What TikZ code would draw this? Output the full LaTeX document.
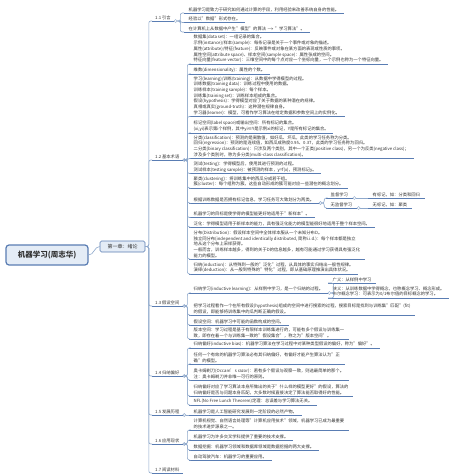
\documentclass[tikz,border=0pt]{standalone}
\usepackage{fontspec}
\setmainfont{Noto Sans CJK SC}
\usetikzlibrary{positioning}
\definecolor{mapline}{HTML}{8FA9CC}
\definecolor{mapblue}{HTML}{5A7DB3}
\definecolor{mapfill}{HTML}{E4ECF6}
\definecolor{maptext}{HTML}{333333}

\begin{document}
\begin{tikzpicture}[x=1pt,y=-1pt]

\tikzset{root-topic/.style={draw=mapblue, line width=1.2pt, fill=mapfill, rounded corners=3pt,
                            minimum width=82pt, minimum height=20pt,
                            font=\fontsize{7.5}{9}\selectfont\bfseries, text=maptext},
         chapter-topic/.style={draw=mapblue, line width=0.6pt, fill=mapfill, rounded corners=1.5pt,
                            minimum width=45pt, minimum height=11pt, inner sep=1pt,
                            font=\fontsize{5}{6}\selectfont, text=maptext},
         section-topic/.style={anchor=south west, inner xsep=3pt, inner ysep=1.2pt,
                            font=\fontsize{4.3}{5.7}\selectfont, text=maptext},
         leaf-topic/.style={anchor=south west, align=left, inner xsep=4.5pt, inner ysep=1.2pt,
                            font=\fontsize{4.3}{5.7}\selectfont, text=maptext},
         topic-line/.style={draw=mapblue, line width=0.7pt},
         branch/.style={draw=mapline, line width=0.6pt, rounded corners=2pt},
         fold/.style={draw=mapline, fill=white, line width=0.4pt, circle, inner sep=0pt, minimum size=3pt}}

\useasboundingbox[fill=white] (0,0) rectangle (474,476);

% root and chapter
\node[root-topic] (root) at (47,255) {机器学习(周志华)};
\node[chapter-topic] (ch1) at (122.5,246.5) {第一章：绪论};
\draw[branch] (root.east) to[out=0,in=180] (ch1.west);

% sections
\node[section-topic] (s1) at (152,21) {1.1 引言};
\node[section-topic] (s2) at (152,160) {1.2 基本术语};
\node[section-topic] (s3) at (152,306) {1.3 假设空间};
\node[section-topic] (s4) at (152,376) {1.4 归纳偏好};
\node[section-topic] (s5) at (152,415) {1.5 发展历程};
\node[section-topic] (s6) at (152,444) {1.6 应用现状};
\node[section-topic] (s7) at (152,473) {1.7 阅读材料};
\foreach \sec in {s1,s2,s3,s4,s5,s6,s7}
  \draw[branch] (ch1.east) -- ++(3.5,0) |- (\sec.south west);
\foreach \sec/\f in {s1/f1,s2/f2,s3/f3,s4/f4,s5/f5,s6/f6}
  \node[fold, right=0pt of \sec.south east] (\f) {};

% 1.1
\node[leaf-topic] (a1) at (184,13) {机器学习是致力于研究如何通过计算的手段，利用经验来改善系统自身的性能。};
\node[leaf-topic] (a2) at (184,22.5) {经验以"数据"形式存在。};
\node[leaf-topic] (a3) at (184,32) {在计算机上从数据中产生"模型"的算法 $\rightarrow$ "学习算法"。};

% 1.2
\node[leaf-topic] (b1) at (189,64) {数据集(data set)：一组记录的集合。\\
  示例(instance)/样本(sample)：每条记录是关于一个事件或对象的描述。\\
  属性(attribute)/特征(feature)：反映事件或对象在某方面的表现或性质的事项。\\
  属性空间(attribute space)、样本空间(sample space)：属性张成的空间。\\
  特征向量(feature vector)：三维空间中的每个点对应一个坐标向量，一个示例也称为一个特征向量。};
\node[leaf-topic] (b2) at (189,74) {维数(dimensionality)：属性的个数。};
\node[leaf-topic] (b3) at (189,116.5) {学习(learning)/训练(training)：从数据中学得模型的过程。\\
  训练数据(training data)：训练过程中使用的数据。\\
  训练样本(training sample)：每个样本。\\
  训练集(training set)：训练样本组成的集合。\\
  假设(hypothesis)：学得模型对应了关于数据的某种潜在的规律。\\
  真相或真实(ground-truth)：这种潜在规律自身。\\
  学习器(learner)：模型，可看作学习算法在给定数据和参数空间上的实例化。};
\node[leaf-topic] (b4) at (189,133) {标记空间(label space)或输出空间：所有标记的集合。\\
  (xi,yi)表示第i个样例，其中yi∈Y是示例xi的标记，Y是所有标记的集合。};
\node[leaf-topic] (b5) at (189,158.5) {分类(classification)：预测的是离散值，如好瓜、坏瓜，此类的学习任务称为分类。\\
  回归(regression)：预测的是连续值，如西瓜成熟度0.95、0.37，此类的学习任务称为回归。\\
  二分类(binary classification)：只涉及两个类别，其中一个正类(positive class)，另一个为反类(negative class)；\\
  涉及多个类别时，称为多分类(multi-class classification)。};
\node[leaf-topic] (b6) at (189,173.5) {测试(testing)：学得模型后，使用其进行预测的过程。\\
  测试样本(testing sample)：被预测的样本，y=f(x)，预测标记y。};
\node[leaf-topic] (b7) at (189,188) {聚类(clustering)：将训练集中的西瓜分成若干组。\\
  簇(cluster)：每个组称为簇，这些自动形成的簇可能对应一些潜在的概念划分。};
\node[leaf-topic] (b8) at (189,203) {根据训练数据是否拥有标记信息，学习任务可大致划分为两类。};
\node[leaf-topic] (b9) at (189,217.5) {机器学习的目标是使学得的模型能更好地适用于"新样本"。};
\node[leaf-topic] (b10) at (189,227) {泛化：学得模型适用于新样本的能力，具有强泛化能力的模型能很好地适用于整个样本空间。};
\node[leaf-topic] (b11) at (189,259) {分布(Distribution)：假设样本空间中全体样本服从一个未知分布D。\\
  独立同分布(independent and identically distributed, 简称i.i.d.)：每个样本都是独立\\
  地从这个分布上采样获得。\\
  一般而言，训练样本越多，得到的关于D的信息越多，越有可能通过学习获得具有强泛化\\
  能力的模型。};
\node[leaf-topic] (b12) at (189,274) {归纳(induction)：从特殊到一般的"泛化"过程，从具体的事实归结出一般性规律。\\
  演绎(deduction)：从一般到特殊的"特化"过程，即从基础原理推演出具体状况。};

% supervised / unsupervised
\node[fold, right=0pt of b8.south east] (f8) {};
\node[leaf-topic] (sup) at (326,198) {监督学习};
\node[leaf-topic] (uns) at (326,208) {无监督学习};
\node[fold, right=0pt of sup.south east] (fsup) {};
\node[fold, right=0pt of uns.south east] (funs) {};
\node[leaf-topic] (sup1) at (368,198) {有标记，如：分类和回归};
\node[leaf-topic] (uns1) at (368,208) {无标记，如：聚类};

% 1.3
\node[leaf-topic] (c1) at (189,293) {归纳学习(inductive learning)：从样例中学习，是一个归纳的过程。};
\node[fold, right=0pt of c1.south east] (fc1) {};
\node[leaf-topic] (g1) at (328,283) {广义：从样例中学习};
\node[leaf-topic] (g2) at (328,298) {狭义：从训练数据中学得概念，也称概念学习、概念形成。\\
  布尔概念学习：可表示为0/1布尔值的目标概念的学习。};
\node[leaf-topic] (c2) at (189,315) {把学习过程看作一个在所有假设(hypothesis)组成的空间中进行搜索的过程，搜索目标是找到与训练集"匹配"(fit)\\
  的假设，即能够将训练集中的瓜判断正确的假设。};
\node[leaf-topic] (c3) at (189,325) {假设空间：机器学习中可能的函数构成的空间。};
\node[leaf-topic] (c4) at (189,339) {版本空间：学习过程是基于有限样本训练集进行的，可能有多个假设与训练集一\\
  致，即存在着一个与训练集一致的"假设集合"，称之为"版本空间"。};

% 1.4
\node[leaf-topic] (d1) at (189,348) {归纳偏好(inductive bias)：机器学习算法在学习过程中对某种类型假设的偏好，称为"偏好"。};
\node[leaf-topic] (d2) at (189,364) {任何一个有效的机器学习算法必有其归纳偏好，有偏好才能产生算法认为"正\\
  确"的模型。};
\node[leaf-topic] (d3) at (189,380) {奥卡姆剃刀(Occam's razor)：若有多个假设与观察一致，则选最简单的那个。\\
  注：奥卡姆剃刀并非唯一可行的原则。};
\node[leaf-topic] (d4) at (189,396) {归纳偏好对应了学习算法本身所做出的关于"什么样的模型更好"的假设，算法的\\
  归纳偏好是否与问题本身匹配，大多数时候直接决定了算法能否取得好的性能。};
\node[leaf-topic] (d5) at (189,405) {NFL(No Free Lunch Theorem)定理：总误差与学习算法无关。};

% 1.5
\node[leaf-topic] (e0) at (189,415) {机器学习是人工智能研究发展到一定阶段的必然产物。};

% 1.6
\node[leaf-topic] (e1) at (189,430) {计算机视觉、自然语言处理等"计算机应用技术"领域，机器学习已成为最重要\\
  的技术进步源泉之一。};
\node[leaf-topic] (e2) at (189,440) {机器学习为许多交叉学科提供了重要的技术支撑。};
\node[leaf-topic] (e3) at (189,450) {数据挖掘：机器学习领域和数据库领域是数据挖掘的两大支撑。};
\node[leaf-topic] (e4) at (189,460) {自动驾驶汽车：机器学习的重要应用。};

% underlines
\foreach \n in {s1,s2,s3,s4,s5,s6,s7,a1,a2,a3,b1,b2,b3,b4,b5,b6,b7,b8,b9,b10,b11,b12,
                sup,uns,sup1,uns1,c1,g1,g2,c2,c3,c4,d1,d2,d3,d4,d5,e0,e1,e2,e3,e4}
  \draw[topic-line] (\n.south west) -- (\n.south east);

% branches
\foreach \n in {a1,a2,a3}
  \draw[branch] (f1.east) -- ++(3,0) |- (\n.south west);
\foreach \n in {b1,b2,b3,b4,b5,b6,b7,b8,b9,b10,b11,b12}
  \draw[branch] (f2.east) -- ++(1.5,0) |- (\n.south west);
\foreach \n in {c1,c2,c3,c4}
  \draw[branch] (f3.east) -- ++(1.5,0) |- (\n.south west);
\foreach \n in {d1,d2,d3,d4,d5}
  \draw[branch] (f4.east) -- ++(1.5,0) |- (\n.south west);
\draw[branch] (f5.east) -- (e0.south west);
\foreach \n in {e1,e2,e3,e4}
  \draw[branch] (f6.east) -- ++(1.5,0) |- (\n.south west);
\foreach \n in {sup,uns}
  \draw[branch] (f8.east) -- ++(2,0) |- (\n.south west);
\foreach \n in {g1,g2}
  \draw[branch] (fc1.east) -- ++(2.5,0) |- (\n.south west);
\draw[branch] (fsup.east) -- (sup1.south west);
\draw[branch] (funs.east) -- (uns1.south west);

\end{tikzpicture}
\end{document}
